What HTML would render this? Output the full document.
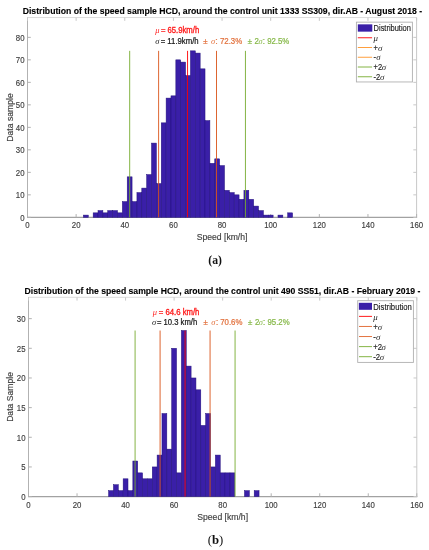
<!DOCTYPE html>
<html><head><meta charset="utf-8"><title>Speed distributions</title>
<style>
html,body{margin:0;padding:0;background:#fff}
svg{display:block}
text{font-family:"Liberation Sans", Arial, sans-serif;fill:#404040}
.tk{font-size:8.6px;stroke:#404040;stroke-width:0.15px}
.lb{font-size:8.65px;stroke:#444;stroke-width:0.15px}
.ti{font-size:8.67px;font-weight:bold;fill:#000;stroke:#000;stroke-width:0.12px}
.an{font-size:8.6px;stroke-width:0.22px}
.lg{font-size:8.3px;fill:#222;stroke:#222;stroke-width:0.15px}
.pm{font-family:"Liberation Serif",serif}
.mi{font-family:"Liberation Serif","DejaVu Serif",serif;font-style:italic;stroke:none !important}
.cr{font-weight:normal}
.cp{font-family:"Liberation Serif", "DejaVu Serif", serif;font-weight:bold;font-size:13px;fill:#111}
</style></head><body>
<svg width="429" height="550" viewBox="0 0 429 550">
<rect width="429" height="550" fill="#fff"/>
<path d="M27.5 17.55H416.6" fill="none" stroke="#dcdcdc" stroke-width="1"/>
<path d="M416.6 17.55V217.35" fill="none" stroke="#c8c8c8" stroke-width="1"/>
<path d="M27.5 17.55V217.35" fill="none" stroke="#b2b2b2" stroke-width="1"/>
<path d="M27.0 217.35H417.1" fill="none" stroke="#a2a2a2" stroke-width="1.2"/>
<line x1="27.50" x2="27.50" y1="217.35" y2="214.04999999999998" stroke="#b2b2b2" stroke-width="1"/>
<line x1="27.50" x2="27.50" y1="17.55" y2="20.85" stroke="#c8c8c8" stroke-width="1"/>
<text transform="translate(27.50 228.25) scale(0.91 1)" class="tk" text-anchor="middle">0</text>
<line x1="76.14" x2="76.14" y1="217.35" y2="214.04999999999998" stroke="#b2b2b2" stroke-width="1"/>
<line x1="76.14" x2="76.14" y1="17.55" y2="20.85" stroke="#c8c8c8" stroke-width="1"/>
<text transform="translate(76.14 228.25) scale(0.91 1)" class="tk" text-anchor="middle">20</text>
<line x1="124.78" x2="124.78" y1="217.35" y2="214.04999999999998" stroke="#b2b2b2" stroke-width="1"/>
<line x1="124.78" x2="124.78" y1="17.55" y2="20.85" stroke="#c8c8c8" stroke-width="1"/>
<text transform="translate(124.78 228.25) scale(0.91 1)" class="tk" text-anchor="middle">40</text>
<line x1="173.41" x2="173.41" y1="217.35" y2="214.04999999999998" stroke="#b2b2b2" stroke-width="1"/>
<line x1="173.41" x2="173.41" y1="17.55" y2="20.85" stroke="#c8c8c8" stroke-width="1"/>
<text transform="translate(173.41 228.25) scale(0.91 1)" class="tk" text-anchor="middle">60</text>
<line x1="222.05" x2="222.05" y1="217.35" y2="214.04999999999998" stroke="#b2b2b2" stroke-width="1"/>
<line x1="222.05" x2="222.05" y1="17.55" y2="20.85" stroke="#c8c8c8" stroke-width="1"/>
<text transform="translate(222.05 228.25) scale(0.91 1)" class="tk" text-anchor="middle">80</text>
<line x1="270.69" x2="270.69" y1="217.35" y2="214.04999999999998" stroke="#b2b2b2" stroke-width="1"/>
<line x1="270.69" x2="270.69" y1="17.55" y2="20.85" stroke="#c8c8c8" stroke-width="1"/>
<text transform="translate(270.69 228.25) scale(0.91 1)" class="tk" text-anchor="middle">100</text>
<line x1="319.33" x2="319.33" y1="217.35" y2="214.04999999999998" stroke="#b2b2b2" stroke-width="1"/>
<line x1="319.33" x2="319.33" y1="17.55" y2="20.85" stroke="#c8c8c8" stroke-width="1"/>
<text transform="translate(319.33 228.25) scale(0.91 1)" class="tk" text-anchor="middle">120</text>
<line x1="367.96" x2="367.96" y1="217.35" y2="214.04999999999998" stroke="#b2b2b2" stroke-width="1"/>
<line x1="367.96" x2="367.96" y1="17.55" y2="20.85" stroke="#c8c8c8" stroke-width="1"/>
<text transform="translate(367.96 228.25) scale(0.91 1)" class="tk" text-anchor="middle">140</text>
<line x1="416.60" x2="416.60" y1="217.35" y2="214.04999999999998" stroke="#b2b2b2" stroke-width="1"/>
<line x1="416.60" x2="416.60" y1="17.55" y2="20.85" stroke="#c8c8c8" stroke-width="1"/>
<text transform="translate(416.60 228.25) scale(0.91 1)" class="tk" text-anchor="middle">160</text>
<line x1="27.5" x2="30.8" y1="217.35" y2="217.35" stroke="#b2b2b2" stroke-width="1"/>
<line x1="416.6" x2="413.3" y1="217.35" y2="217.35" stroke="#c8c8c8" stroke-width="1"/>
<text transform="translate(24.50 220.80) scale(0.91 1)" class="tk" text-anchor="end">0</text>
<line x1="27.5" x2="30.8" y1="194.85" y2="194.85" stroke="#b2b2b2" stroke-width="1"/>
<line x1="416.6" x2="413.3" y1="194.85" y2="194.85" stroke="#c8c8c8" stroke-width="1"/>
<text transform="translate(24.50 198.30) scale(0.91 1)" class="tk" text-anchor="end">10</text>
<line x1="27.5" x2="30.8" y1="172.35" y2="172.35" stroke="#b2b2b2" stroke-width="1"/>
<line x1="416.6" x2="413.3" y1="172.35" y2="172.35" stroke="#c8c8c8" stroke-width="1"/>
<text transform="translate(24.50 175.80) scale(0.91 1)" class="tk" text-anchor="end">20</text>
<line x1="27.5" x2="30.8" y1="149.85" y2="149.85" stroke="#b2b2b2" stroke-width="1"/>
<line x1="416.6" x2="413.3" y1="149.85" y2="149.85" stroke="#c8c8c8" stroke-width="1"/>
<text transform="translate(24.50 153.30) scale(0.91 1)" class="tk" text-anchor="end">30</text>
<line x1="27.5" x2="30.8" y1="127.35" y2="127.35" stroke="#b2b2b2" stroke-width="1"/>
<line x1="416.6" x2="413.3" y1="127.35" y2="127.35" stroke="#c8c8c8" stroke-width="1"/>
<text transform="translate(24.50 130.80) scale(0.91 1)" class="tk" text-anchor="end">40</text>
<line x1="27.5" x2="30.8" y1="104.85" y2="104.85" stroke="#b2b2b2" stroke-width="1"/>
<line x1="416.6" x2="413.3" y1="104.85" y2="104.85" stroke="#c8c8c8" stroke-width="1"/>
<text transform="translate(24.50 108.30) scale(0.91 1)" class="tk" text-anchor="end">50</text>
<line x1="27.5" x2="30.8" y1="82.35" y2="82.35" stroke="#b2b2b2" stroke-width="1"/>
<line x1="416.6" x2="413.3" y1="82.35" y2="82.35" stroke="#c8c8c8" stroke-width="1"/>
<text transform="translate(24.50 85.80) scale(0.91 1)" class="tk" text-anchor="end">60</text>
<line x1="27.5" x2="30.8" y1="59.85" y2="59.85" stroke="#b2b2b2" stroke-width="1"/>
<line x1="416.6" x2="413.3" y1="59.85" y2="59.85" stroke="#c8c8c8" stroke-width="1"/>
<text transform="translate(24.50 63.30) scale(0.91 1)" class="tk" text-anchor="end">70</text>
<line x1="27.5" x2="30.8" y1="37.35" y2="37.35" stroke="#b2b2b2" stroke-width="1"/>
<line x1="416.6" x2="413.3" y1="37.35" y2="37.35" stroke="#c8c8c8" stroke-width="1"/>
<text transform="translate(24.50 40.80) scale(0.91 1)" class="tk" text-anchor="end">80</text>
<rect x="83.43" y="215.10" width="4.86" height="2.25" fill="#3a1fa8" stroke="#22107c" stroke-width="0.5"/>
<rect x="93.16" y="212.85" width="4.86" height="4.50" fill="#3a1fa8" stroke="#22107c" stroke-width="0.5"/>
<rect x="98.02" y="210.60" width="4.86" height="6.75" fill="#3a1fa8" stroke="#22107c" stroke-width="0.5"/>
<rect x="102.89" y="212.85" width="4.86" height="4.50" fill="#3a1fa8" stroke="#22107c" stroke-width="0.5"/>
<rect x="107.75" y="210.60" width="4.86" height="6.75" fill="#3a1fa8" stroke="#22107c" stroke-width="0.5"/>
<rect x="112.62" y="210.60" width="4.86" height="6.75" fill="#3a1fa8" stroke="#22107c" stroke-width="0.5"/>
<rect x="117.48" y="212.85" width="4.86" height="4.50" fill="#3a1fa8" stroke="#22107c" stroke-width="0.5"/>
<rect x="122.34" y="201.60" width="4.86" height="15.75" fill="#3a1fa8" stroke="#22107c" stroke-width="0.5"/>
<rect x="127.21" y="176.85" width="4.86" height="40.50" fill="#3a1fa8" stroke="#22107c" stroke-width="0.5"/>
<rect x="132.07" y="201.60" width="4.86" height="15.75" fill="#3a1fa8" stroke="#22107c" stroke-width="0.5"/>
<rect x="136.93" y="192.60" width="4.86" height="24.75" fill="#3a1fa8" stroke="#22107c" stroke-width="0.5"/>
<rect x="141.80" y="188.10" width="4.86" height="29.25" fill="#3a1fa8" stroke="#22107c" stroke-width="0.5"/>
<rect x="146.66" y="174.60" width="4.86" height="42.75" fill="#3a1fa8" stroke="#22107c" stroke-width="0.5"/>
<rect x="151.53" y="143.10" width="4.86" height="74.25" fill="#3a1fa8" stroke="#22107c" stroke-width="0.5"/>
<rect x="156.39" y="183.60" width="4.86" height="33.75" fill="#3a1fa8" stroke="#22107c" stroke-width="0.5"/>
<rect x="161.25" y="122.85" width="4.86" height="94.50" fill="#3a1fa8" stroke="#22107c" stroke-width="0.5"/>
<rect x="166.12" y="98.10" width="4.86" height="119.25" fill="#3a1fa8" stroke="#22107c" stroke-width="0.5"/>
<rect x="170.98" y="95.85" width="4.86" height="121.50" fill="#3a1fa8" stroke="#22107c" stroke-width="0.5"/>
<rect x="175.84" y="59.85" width="4.86" height="157.50" fill="#3a1fa8" stroke="#22107c" stroke-width="0.5"/>
<rect x="180.71" y="62.10" width="4.86" height="155.25" fill="#3a1fa8" stroke="#22107c" stroke-width="0.5"/>
<rect x="185.57" y="75.60" width="4.86" height="141.75" fill="#3a1fa8" stroke="#22107c" stroke-width="0.5"/>
<rect x="190.44" y="50.85" width="4.86" height="166.50" fill="#3a1fa8" stroke="#22107c" stroke-width="0.5"/>
<rect x="195.30" y="53.10" width="4.86" height="164.25" fill="#3a1fa8" stroke="#22107c" stroke-width="0.5"/>
<rect x="200.16" y="68.85" width="4.86" height="148.50" fill="#3a1fa8" stroke="#22107c" stroke-width="0.5"/>
<rect x="205.03" y="120.60" width="4.86" height="96.75" fill="#3a1fa8" stroke="#22107c" stroke-width="0.5"/>
<rect x="209.89" y="163.35" width="4.86" height="54.00" fill="#3a1fa8" stroke="#22107c" stroke-width="0.5"/>
<rect x="214.75" y="158.85" width="4.86" height="58.50" fill="#3a1fa8" stroke="#22107c" stroke-width="0.5"/>
<rect x="219.62" y="165.60" width="4.86" height="51.75" fill="#3a1fa8" stroke="#22107c" stroke-width="0.5"/>
<rect x="224.48" y="190.35" width="4.86" height="27.00" fill="#3a1fa8" stroke="#22107c" stroke-width="0.5"/>
<rect x="229.35" y="192.60" width="4.86" height="24.75" fill="#3a1fa8" stroke="#22107c" stroke-width="0.5"/>
<rect x="234.21" y="194.85" width="4.86" height="22.50" fill="#3a1fa8" stroke="#22107c" stroke-width="0.5"/>
<rect x="239.07" y="199.35" width="4.86" height="18.00" fill="#3a1fa8" stroke="#22107c" stroke-width="0.5"/>
<rect x="243.94" y="190.35" width="4.86" height="27.00" fill="#3a1fa8" stroke="#22107c" stroke-width="0.5"/>
<rect x="248.80" y="199.35" width="4.86" height="18.00" fill="#3a1fa8" stroke="#22107c" stroke-width="0.5"/>
<rect x="253.66" y="206.10" width="4.86" height="11.25" fill="#3a1fa8" stroke="#22107c" stroke-width="0.5"/>
<rect x="258.53" y="210.60" width="4.86" height="6.75" fill="#3a1fa8" stroke="#22107c" stroke-width="0.5"/>
<rect x="263.39" y="215.10" width="4.86" height="2.25" fill="#3a1fa8" stroke="#22107c" stroke-width="0.5"/>
<rect x="268.26" y="215.10" width="4.86" height="2.25" fill="#3a1fa8" stroke="#22107c" stroke-width="0.5"/>
<rect x="277.98" y="215.10" width="4.86" height="2.25" fill="#3a1fa8" stroke="#22107c" stroke-width="0.5"/>
<rect x="287.71" y="212.85" width="4.86" height="4.50" fill="#3a1fa8" stroke="#22107c" stroke-width="0.5"/>
<line x1="187.56" x2="187.56" y1="217.35" y2="50.85" stroke="#ff0000" stroke-width="0.9"/>
<line x1="216.50" x2="216.50" y1="217.35" y2="50.85" stroke="#d95319" stroke-width="0.9"/>
<line x1="158.62" x2="158.62" y1="217.35" y2="50.85" stroke="#d95319" stroke-width="0.9"/>
<line x1="245.44" x2="245.44" y1="217.35" y2="50.85" stroke="#77ac30" stroke-width="0.9"/>
<line x1="129.68" x2="129.68" y1="217.35" y2="50.85" stroke="#77ac30" stroke-width="0.9"/>
<text transform="translate(222.40 14.45)" class="ti" text-anchor="middle" style="font-size:8.67px">Distribution of the speed sample HCD, around the control unit 1333 SS309, dir.AB - August 2018 -</text>
<text transform="translate(222.05 239.75)" class="lb" text-anchor="middle">Speed [km/h]</text>
<text transform="translate(12.60 117.45) rotate(-90)" class="lb" text-anchor="middle">Data sample</text>
<text transform="translate(155.20 33.25)" class="an mi" style="fill:#ff1a1a;stroke:#ff1a1a;font-size:8.4px">μ</text>
<text transform="translate(160.90 33.25) scale(0.895 1)" class="an" style="fill:#ff1a1a;stroke:#ff1a1a;stroke-width:0.35px">= 65.9km/h</text>
<text transform="translate(155.20 44.15)" class="an mi" style="fill:#161616;stroke:#161616;font-size:8.4px">σ</text>
<text transform="translate(160.70 44.15) scale(0.9 1)" class="an" style="fill:#161616;stroke:#161616">= 11.9km/h</text>
<text transform="translate(203.00 44.15)" class="an pm" style="fill:#e2703c;stroke:#e2703c">±</text>
<text transform="translate(210.90 44.15)" class="an mi" style="fill:#e2703c;stroke:#e2703c;font-size:8.4px">σ</text>
<text transform="translate(215.60 44.15) scale(0.91 1)" class="an" style="fill:#e2703c;stroke:#e2703c">: 72.3%</text>
<text transform="translate(247.50 44.15)" class="an pm" style="fill:#86b848;stroke:#86b848">±</text>
<text transform="translate(254.60 44.15) scale(0.91 1)" class="an" style="fill:#86b848;stroke:#86b848">2</text>
<text transform="translate(258.50 44.15)" class="an mi" style="fill:#86b848;stroke:#86b848;font-size:8.4px">σ</text>
<text transform="translate(262.80 44.15) scale(0.91 1)" class="an" style="fill:#86b848;stroke:#86b848">: 92.5%</text>
<rect x="356.4" y="22.15" width="56.0" height="59.800000000000004" fill="#fff" stroke="#b0b0b0" stroke-width="0.9"/>
<rect x="357.80" y="24.35" width="14.5" height="7.3" fill="#3a1fa8"/>
<text transform="translate(373.60 31.20) scale(0.9 1)" class="lg">Distribution</text>
<line x1="357.80" x2="372.10" y1="37.75" y2="37.75" stroke="#ff0000" stroke-width="0.9"/>
<text transform="translate(373.60 40.95)" class="lg mi" style="font-size:8.8px">μ</text>
<line x1="357.80" x2="372.10" y1="47.50" y2="47.50" stroke="#ff9428" stroke-width="0.9"/>
<text transform="translate(373.60 50.70) scale(0.9 1)" class="lg">+</text>
<text transform="translate(378.00 50.70)" class="lg mi" style="font-size:8.8px">σ</text>
<line x1="357.80" x2="372.10" y1="57.25" y2="57.25" stroke="#ff9428" stroke-width="0.9"/>
<text transform="translate(373.60 60.45) scale(0.9 1)" class="lg">-</text>
<text transform="translate(376.20 60.45)" class="lg mi" style="font-size:8.8px">σ</text>
<line x1="357.80" x2="372.10" y1="67.00" y2="67.00" stroke="#77ac30" stroke-width="0.9"/>
<text transform="translate(373.60 70.20) scale(0.9 1)" class="lg">+2</text>
<text transform="translate(381.80 70.20)" class="lg mi" style="font-size:8.8px">σ</text>
<line x1="357.80" x2="372.10" y1="76.75" y2="76.75" stroke="#77ac30" stroke-width="0.9"/>
<text transform="translate(373.60 79.95) scale(0.9 1)" class="lg">-2</text>
<text transform="translate(380.00 79.95)" class="lg mi" style="font-size:8.8px">σ</text>
<text transform="translate(215.10 264.30) scale(0.9 1)" class="cp" text-anchor="middle">(a)</text>
<path d="M28.5 297.3H416.8" fill="none" stroke="#dcdcdc" stroke-width="1"/>
<path d="M416.8 297.3V496.6" fill="none" stroke="#c8c8c8" stroke-width="1"/>
<path d="M28.5 297.3V496.6" fill="none" stroke="#b2b2b2" stroke-width="1"/>
<path d="M28.0 496.6H417.3" fill="none" stroke="#a2a2a2" stroke-width="1.2"/>
<line x1="28.50" x2="28.50" y1="496.6" y2="493.3" stroke="#b2b2b2" stroke-width="1"/>
<line x1="28.50" x2="28.50" y1="297.3" y2="300.6" stroke="#c8c8c8" stroke-width="1"/>
<text transform="translate(28.50 508.00) scale(0.91 1)" class="tk" text-anchor="middle">0</text>
<line x1="77.04" x2="77.04" y1="496.6" y2="493.3" stroke="#b2b2b2" stroke-width="1"/>
<line x1="77.04" x2="77.04" y1="297.3" y2="300.6" stroke="#c8c8c8" stroke-width="1"/>
<text transform="translate(77.04 508.00) scale(0.91 1)" class="tk" text-anchor="middle">20</text>
<line x1="125.57" x2="125.57" y1="496.6" y2="493.3" stroke="#b2b2b2" stroke-width="1"/>
<line x1="125.57" x2="125.57" y1="297.3" y2="300.6" stroke="#c8c8c8" stroke-width="1"/>
<text transform="translate(125.57 508.00) scale(0.91 1)" class="tk" text-anchor="middle">40</text>
<line x1="174.11" x2="174.11" y1="496.6" y2="493.3" stroke="#b2b2b2" stroke-width="1"/>
<line x1="174.11" x2="174.11" y1="297.3" y2="300.6" stroke="#c8c8c8" stroke-width="1"/>
<text transform="translate(174.11 508.00) scale(0.91 1)" class="tk" text-anchor="middle">60</text>
<line x1="222.65" x2="222.65" y1="496.6" y2="493.3" stroke="#b2b2b2" stroke-width="1"/>
<line x1="222.65" x2="222.65" y1="297.3" y2="300.6" stroke="#c8c8c8" stroke-width="1"/>
<text transform="translate(222.65 508.00) scale(0.91 1)" class="tk" text-anchor="middle">80</text>
<line x1="271.19" x2="271.19" y1="496.6" y2="493.3" stroke="#b2b2b2" stroke-width="1"/>
<line x1="271.19" x2="271.19" y1="297.3" y2="300.6" stroke="#c8c8c8" stroke-width="1"/>
<text transform="translate(271.19 508.00) scale(0.91 1)" class="tk" text-anchor="middle">100</text>
<line x1="319.72" x2="319.72" y1="496.6" y2="493.3" stroke="#b2b2b2" stroke-width="1"/>
<line x1="319.72" x2="319.72" y1="297.3" y2="300.6" stroke="#c8c8c8" stroke-width="1"/>
<text transform="translate(319.72 508.00) scale(0.91 1)" class="tk" text-anchor="middle">120</text>
<line x1="368.26" x2="368.26" y1="496.6" y2="493.3" stroke="#b2b2b2" stroke-width="1"/>
<line x1="368.26" x2="368.26" y1="297.3" y2="300.6" stroke="#c8c8c8" stroke-width="1"/>
<text transform="translate(368.26 508.00) scale(0.91 1)" class="tk" text-anchor="middle">140</text>
<line x1="416.80" x2="416.80" y1="496.6" y2="493.3" stroke="#b2b2b2" stroke-width="1"/>
<line x1="416.80" x2="416.80" y1="297.3" y2="300.6" stroke="#c8c8c8" stroke-width="1"/>
<text transform="translate(416.80 508.00) scale(0.91 1)" class="tk" text-anchor="middle">160</text>
<line x1="28.5" x2="31.8" y1="496.60" y2="496.60" stroke="#b2b2b2" stroke-width="1"/>
<line x1="416.8" x2="413.5" y1="496.60" y2="496.60" stroke="#c8c8c8" stroke-width="1"/>
<text transform="translate(25.50 500.05) scale(0.91 1)" class="tk" text-anchor="end">0</text>
<line x1="28.5" x2="31.8" y1="466.94" y2="466.94" stroke="#b2b2b2" stroke-width="1"/>
<line x1="416.8" x2="413.5" y1="466.94" y2="466.94" stroke="#c8c8c8" stroke-width="1"/>
<text transform="translate(25.50 470.39) scale(0.91 1)" class="tk" text-anchor="end">5</text>
<line x1="28.5" x2="31.8" y1="437.28" y2="437.28" stroke="#b2b2b2" stroke-width="1"/>
<line x1="416.8" x2="413.5" y1="437.28" y2="437.28" stroke="#c8c8c8" stroke-width="1"/>
<text transform="translate(25.50 440.73) scale(0.91 1)" class="tk" text-anchor="end">10</text>
<line x1="28.5" x2="31.8" y1="407.63" y2="407.63" stroke="#b2b2b2" stroke-width="1"/>
<line x1="416.8" x2="413.5" y1="407.63" y2="407.63" stroke="#c8c8c8" stroke-width="1"/>
<text transform="translate(25.50 411.08) scale(0.91 1)" class="tk" text-anchor="end">15</text>
<line x1="28.5" x2="31.8" y1="377.97" y2="377.97" stroke="#b2b2b2" stroke-width="1"/>
<line x1="416.8" x2="413.5" y1="377.97" y2="377.97" stroke="#c8c8c8" stroke-width="1"/>
<text transform="translate(25.50 381.42) scale(0.91 1)" class="tk" text-anchor="end">20</text>
<line x1="28.5" x2="31.8" y1="348.31" y2="348.31" stroke="#b2b2b2" stroke-width="1"/>
<line x1="416.8" x2="413.5" y1="348.31" y2="348.31" stroke="#c8c8c8" stroke-width="1"/>
<text transform="translate(25.50 351.76) scale(0.91 1)" class="tk" text-anchor="end">25</text>
<line x1="28.5" x2="31.8" y1="318.65" y2="318.65" stroke="#b2b2b2" stroke-width="1"/>
<line x1="416.8" x2="413.5" y1="318.65" y2="318.65" stroke="#c8c8c8" stroke-width="1"/>
<text transform="translate(25.50 322.10) scale(0.91 1)" class="tk" text-anchor="end">30</text>
<rect x="108.59" y="490.67" width="4.85" height="5.93" fill="#3a1fa8" stroke="#22107c" stroke-width="0.5"/>
<rect x="113.44" y="484.74" width="4.85" height="11.86" fill="#3a1fa8" stroke="#22107c" stroke-width="0.5"/>
<rect x="118.29" y="490.67" width="4.85" height="5.93" fill="#3a1fa8" stroke="#22107c" stroke-width="0.5"/>
<rect x="123.15" y="478.81" width="4.85" height="17.79" fill="#3a1fa8" stroke="#22107c" stroke-width="0.5"/>
<rect x="128.00" y="490.67" width="4.85" height="5.93" fill="#3a1fa8" stroke="#22107c" stroke-width="0.5"/>
<rect x="132.86" y="461.01" width="4.85" height="35.59" fill="#3a1fa8" stroke="#22107c" stroke-width="0.5"/>
<rect x="137.71" y="472.87" width="4.85" height="23.73" fill="#3a1fa8" stroke="#22107c" stroke-width="0.5"/>
<rect x="142.56" y="478.81" width="4.85" height="17.79" fill="#3a1fa8" stroke="#22107c" stroke-width="0.5"/>
<rect x="147.42" y="478.81" width="4.85" height="17.79" fill="#3a1fa8" stroke="#22107c" stroke-width="0.5"/>
<rect x="152.27" y="466.94" width="4.85" height="29.66" fill="#3a1fa8" stroke="#22107c" stroke-width="0.5"/>
<rect x="157.12" y="455.08" width="4.85" height="41.52" fill="#3a1fa8" stroke="#22107c" stroke-width="0.5"/>
<rect x="161.98" y="413.56" width="4.85" height="83.04" fill="#3a1fa8" stroke="#22107c" stroke-width="0.5"/>
<rect x="166.83" y="449.15" width="4.85" height="47.45" fill="#3a1fa8" stroke="#22107c" stroke-width="0.5"/>
<rect x="171.69" y="348.31" width="4.85" height="148.29" fill="#3a1fa8" stroke="#22107c" stroke-width="0.5"/>
<rect x="176.54" y="472.87" width="4.85" height="23.73" fill="#3a1fa8" stroke="#22107c" stroke-width="0.5"/>
<rect x="181.39" y="330.52" width="4.85" height="166.08" fill="#3a1fa8" stroke="#22107c" stroke-width="0.5"/>
<rect x="186.25" y="366.11" width="4.85" height="130.49" fill="#3a1fa8" stroke="#22107c" stroke-width="0.5"/>
<rect x="191.10" y="377.97" width="4.85" height="118.63" fill="#3a1fa8" stroke="#22107c" stroke-width="0.5"/>
<rect x="195.95" y="389.83" width="4.85" height="106.77" fill="#3a1fa8" stroke="#22107c" stroke-width="0.5"/>
<rect x="200.81" y="425.42" width="4.85" height="71.18" fill="#3a1fa8" stroke="#22107c" stroke-width="0.5"/>
<rect x="205.66" y="413.56" width="4.85" height="83.04" fill="#3a1fa8" stroke="#22107c" stroke-width="0.5"/>
<rect x="210.52" y="466.94" width="4.85" height="29.66" fill="#3a1fa8" stroke="#22107c" stroke-width="0.5"/>
<rect x="215.37" y="455.08" width="4.85" height="41.52" fill="#3a1fa8" stroke="#22107c" stroke-width="0.5"/>
<rect x="220.22" y="472.87" width="4.85" height="23.73" fill="#3a1fa8" stroke="#22107c" stroke-width="0.5"/>
<rect x="225.08" y="472.87" width="4.85" height="23.73" fill="#3a1fa8" stroke="#22107c" stroke-width="0.5"/>
<rect x="229.93" y="472.87" width="4.85" height="23.73" fill="#3a1fa8" stroke="#22107c" stroke-width="0.5"/>
<rect x="244.49" y="490.67" width="4.85" height="5.93" fill="#3a1fa8" stroke="#22107c" stroke-width="0.5"/>
<rect x="254.20" y="490.67" width="4.85" height="5.93" fill="#3a1fa8" stroke="#22107c" stroke-width="0.5"/>
<line x1="185.08" x2="185.08" y1="496.60" y2="330.52" stroke="#ff0000" stroke-width="0.9"/>
<line x1="210.07" x2="210.07" y1="496.60" y2="330.52" stroke="#d95319" stroke-width="0.9"/>
<line x1="160.08" x2="160.08" y1="496.60" y2="330.52" stroke="#d95319" stroke-width="0.9"/>
<line x1="235.07" x2="235.07" y1="496.60" y2="330.52" stroke="#77ac30" stroke-width="0.9"/>
<line x1="135.08" x2="135.08" y1="496.60" y2="330.52" stroke="#77ac30" stroke-width="0.9"/>
<text transform="translate(222.50 294.20)" class="ti" text-anchor="middle" style="font-size:8.64px">Distribution of the speed sample HCD, around the control unit 490 SS51, dir.AB - February 2019 -</text>
<text transform="translate(222.65 519.60)" class="lb" text-anchor="middle">Speed [km/h]</text>
<text transform="translate(13.10 396.95) rotate(-90)" class="lb" text-anchor="middle">Data Sample</text>
<text transform="translate(152.80 315.20)" class="an mi" style="fill:#ff1a1a;stroke:#ff1a1a;font-size:8.4px">μ</text>
<text transform="translate(158.80 315.20) scale(0.9 1)" class="an" style="fill:#ff1a1a;stroke:#ff1a1a;stroke-width:0.35px">= 64.6 km/h</text>
<text transform="translate(152.10 325.10)" class="an mi" style="fill:#161616;stroke:#161616;font-size:8.4px">σ</text>
<text transform="translate(157.00 325.10) scale(0.89 1)" class="an" style="fill:#161616;stroke:#161616">= 10.3 km/h</text>
<text transform="translate(203.30 325.10)" class="an pm" style="fill:#e2703c;stroke:#e2703c">±</text>
<text transform="translate(211.20 325.10)" class="an mi" style="fill:#e2703c;stroke:#e2703c;font-size:8.4px">σ</text>
<text transform="translate(215.90 325.10) scale(0.91 1)" class="an" style="fill:#e2703c;stroke:#e2703c">: 70.6%</text>
<text transform="translate(247.80 325.10)" class="an pm" style="fill:#86b848;stroke:#86b848">±</text>
<text transform="translate(254.90 325.10) scale(0.91 1)" class="an" style="fill:#86b848;stroke:#86b848">2</text>
<text transform="translate(258.80 325.10)" class="an mi" style="fill:#86b848;stroke:#86b848;font-size:8.4px">σ</text>
<text transform="translate(263.10 325.10) scale(0.91 1)" class="an" style="fill:#86b848;stroke:#86b848">: 95.2%</text>
<rect x="357.7" y="300.7" width="55.69999999999999" height="61.69999999999999" fill="#fff" stroke="#b0b0b0" stroke-width="0.9"/>
<rect x="358.85" y="302.80" width="13.15" height="7" fill="#3a1fa8"/>
<text transform="translate(373.30 309.50) scale(0.93 1)" class="lg">Distribution</text>
<line x1="359.00" x2="372.00" y1="316.38" y2="316.38" stroke="#ff0000" stroke-width="0.9"/>
<text transform="translate(373.30 319.58)" class="lg mi" style="font-size:8.8px">μ</text>
<line x1="359.00" x2="372.00" y1="326.46" y2="326.46" stroke="#e0622a" stroke-width="0.9"/>
<text transform="translate(373.30 329.66) scale(0.93 1)" class="lg">+</text>
<text transform="translate(377.70 329.66)" class="lg mi" style="font-size:8.8px">σ</text>
<line x1="359.00" x2="372.00" y1="336.54" y2="336.54" stroke="#e0622a" stroke-width="0.9"/>
<text transform="translate(373.30 339.74) scale(0.93 1)" class="lg">-</text>
<text transform="translate(375.90 339.74)" class="lg mi" style="font-size:8.8px">σ</text>
<line x1="359.00" x2="372.00" y1="346.62" y2="346.62" stroke="#77ac30" stroke-width="0.9"/>
<text transform="translate(373.30 349.82) scale(0.93 1)" class="lg">+2</text>
<text transform="translate(381.50 349.82)" class="lg mi" style="font-size:8.8px">σ</text>
<line x1="359.00" x2="372.00" y1="356.70" y2="356.70" stroke="#77ac30" stroke-width="0.9"/>
<text transform="translate(373.30 359.90) scale(0.93 1)" class="lg">-2</text>
<text transform="translate(379.70 359.90)" class="lg mi" style="font-size:8.8px">σ</text>
<text transform="translate(215.50 543.70) scale(0.98 1)" class="cp" text-anchor="middle"><tspan class="cr">(</tspan>b<tspan class="cr">)</tspan></text>
</svg>
</body></html>
